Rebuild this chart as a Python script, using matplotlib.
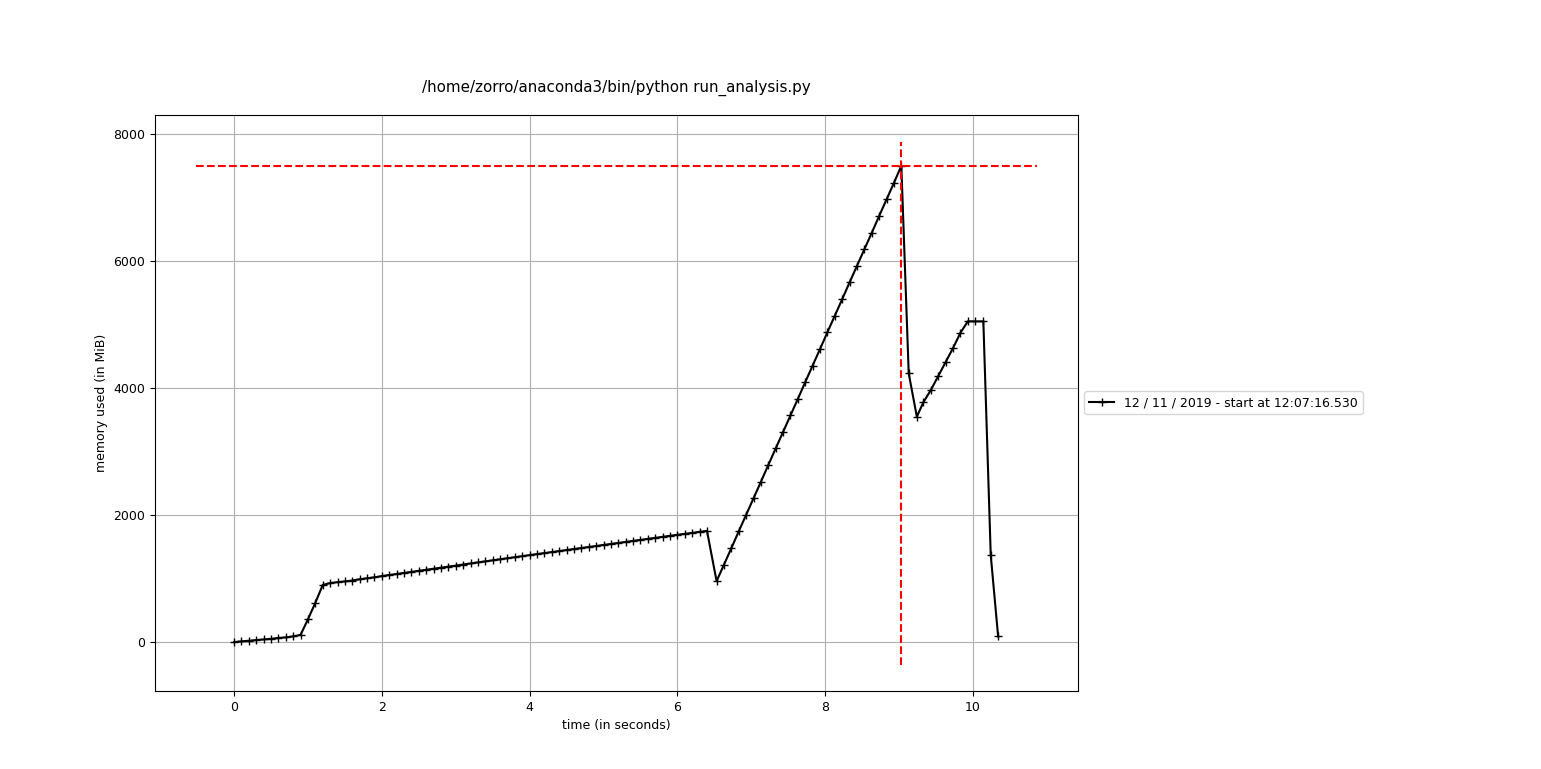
import matplotlib
matplotlib.use("Agg")
import matplotlib.pyplot as plt

# sampled memory usage (mprof style), times in seconds, memory in MiB
times = [
    0.0, 0.1, 0.2, 0.3, 0.4, 0.5, 0.6, 0.7, 0.8, 0.9,
    1.0, 1.1, 1.2, 1.3, 1.4, 1.5, 1.6, 1.7, 1.8, 1.9,
    2.0, 2.1, 2.2, 2.3, 2.4, 2.5, 2.6, 2.7, 2.8, 2.9,
    3.0, 3.1, 3.2, 3.3, 3.4, 3.5, 3.6, 3.7, 3.8, 3.9,
    4.0, 4.1, 4.2, 4.3, 4.4, 4.5, 4.6, 4.7, 4.8, 4.9,
    5.0, 5.1, 5.2, 5.3, 5.4, 5.5, 5.6, 5.7, 5.8, 5.9,
    6.0, 6.1, 6.2, 6.3, 6.4,
    6.53, 6.63, 6.73, 6.83, 6.93, 7.03, 7.13, 7.23, 7.33, 7.43,
    7.53, 7.63, 7.73, 7.83, 7.93, 8.03, 8.13, 8.23, 8.33, 8.43,
    8.53, 8.63, 8.73, 8.83, 8.93, 9.03,
    9.13, 9.24, 9.33, 9.43, 9.53, 9.63, 9.73, 9.83, 9.93, 10.03,
    10.14, 10.24, 10.34,
]
mem_usage = [
    0, 12, 22, 32, 42, 52, 65, 75, 90, 115,
    360, 620, 900, 930, 945, 955, 970, 990, 1005, 1020,
    1040, 1057, 1073, 1090, 1106, 1123, 1139, 1156, 1172, 1189,
    1205, 1222, 1238, 1255, 1271, 1288, 1304, 1321, 1337, 1354,
    1370, 1386, 1402, 1418, 1434, 1450, 1466, 1482, 1498, 1514,
    1530, 1546, 1562, 1578, 1594, 1610, 1626, 1642, 1658, 1674,
    1690, 1705, 1720, 1738, 1750,
    960, 1220, 1480, 1745, 2005, 2265, 2525, 2790, 3050, 3310,
    3570, 3830, 4095, 4355, 4615, 4880, 5140, 5400, 5665, 5925,
    6185, 6445, 6710, 6970, 7230, 7500,
    4230, 3550, 3780, 3970, 4190, 4410, 4630, 4870, 5050, 5050,
    5050, 1370, 90,
]

label = "12 / 11 / 2019 - start at 12:07:16.530"
title = "/home/zorro/anaconda3/bin/python run_analysis.py"

plt.rcParams["font.size"] = 9

max_mem = max(mem_usage)
max_t = times[mem_usage.index(max_mem)]

fig = plt.figure(figsize=(15.41, 7.69), dpi=100)
ax = fig.add_axes([0.1006, 0.1014, 0.5989, 0.7491])

ax.plot(times, mem_usage, "+-", color="black", label=label, markersize=5.5)
ax.hlines(max_mem, -0.51, 10.87, colors="r", linestyles="--")
ax.vlines(max_t, -360, 7870, colors="r", linestyles="--")

ax.set_xlim(-1.07, 11.42)
ax.set_ylim(-770, 8300)
ax.set_xlabel("time (in seconds)")
ax.set_ylabel("memory used (in MiB)")
ax.set_title(title, pad=17, fontsize=10.9)
ax.grid()
ax.legend(loc="center left", bbox_to_anchor=(1, 0.5))

fig.savefig("out.png", dpi=100)
